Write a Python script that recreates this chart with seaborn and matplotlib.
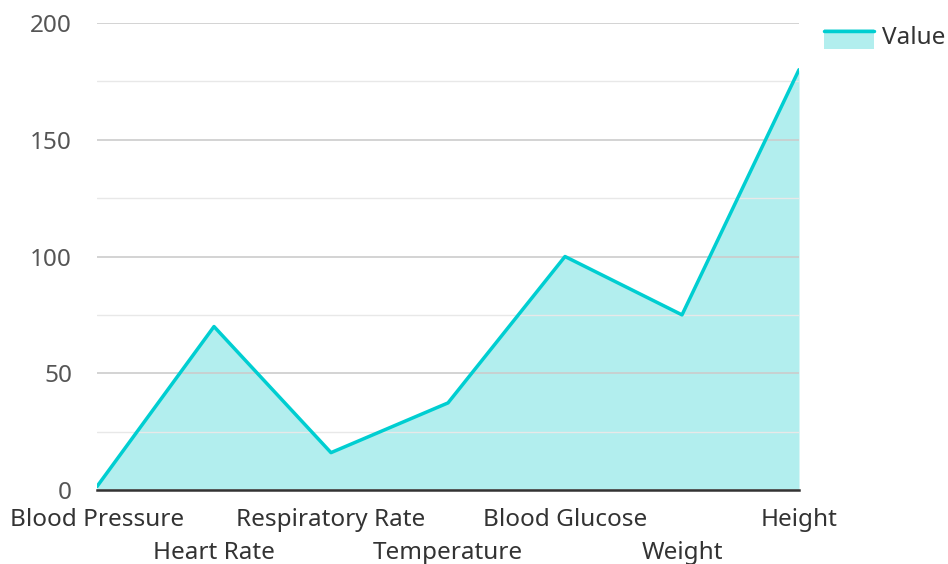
import matplotlib
matplotlib.use("Agg")
import matplotlib.pyplot as plt
import seaborn as sns
import pandas as pd
from matplotlib.patches import Rectangle
from matplotlib.lines import Line2D
from matplotlib.legend_handler import HandlerBase

categories = ["Blood Pressure", "Heart Rate", "Respiratory Rate", "Temperature",
              "Blood Glucose", "Weight", "Height"]
values = [1.5, 70, 16, 37.3, 100, 75, 180]
yticks = [0, 50, 100, 150, 200]
minor_yticks = [25, 75, 125, 175]
series_name = "Value"

sns.set_theme(style="white")
plt.rcParams['font.family'] = ['Noto Sans', 'DejaVu Sans']

LINE = "#00CED1"
FILL = "#B2EEEE"
FS = 17.5

fig = plt.figure(figsize=(9.48, 5.64), dpi=100)
ax = fig.add_axes([97/948, 1-490/564, (799-97)/948, (490-23)/564])

df = pd.DataFrame({"x": range(len(categories)), "y": values})
ax.fill_between(df["x"], 0, df["y"], color=FILL, linewidth=0, zorder=1)
sns.lineplot(data=df, x="x", y="y", ax=ax, color=LINE, linewidth=2.5, zorder=3)

ax.set_xlim(0, len(categories)-1)
ax.set_ylim(0, 200)
ax.set_yticks(yticks)
ax.set_yticks(minor_yticks, minor=True)
ax.set_xticks(range(len(categories)))
ax.set_xticklabels(categories)
ax.set_xlabel("")
ax.set_ylabel("")

for s in ["top", "right", "left"]:
    ax.spines[s].set_visible(False)
ax.spines["bottom"].set_color("#333333")
ax.spines["bottom"].set_linewidth(1.8)
ax.spines["bottom"].set_zorder(4)

ax.set_axisbelow(False)
ax.grid(axis="y", which="major", color="#cccccc", linewidth=1.2)
ax.grid(axis="y", which="minor", color="#e8e8e8", linewidth=1.0)
ax.grid(axis="x", visible=False)

ax.tick_params(axis="y", which="both", length=0, pad=18, labelsize=FS, labelcolor="#555555")
ax.tick_params(axis="x", length=0, labelsize=FS, labelcolor="#333333")
for i, t in enumerate(ax.xaxis.get_major_ticks()):
    t.set_pad(13 if i % 2 == 0 else 37)

class AreaHandler(HandlerBase):
    def create_artists(self, legend, orig_handle, xdescent, ydescent, width, height, fontsize, trans):
        r = Rectangle((-xdescent, -ydescent - 4), width, height + 2, facecolor=FILL, edgecolor="none", transform=trans)
        l = Line2D([-xdescent, -xdescent + width], [-ydescent + height - 3, -ydescent + height - 3],
                   color=LINE, linewidth=2.5, transform=trans)
        return [r, l]

proxy = Rectangle((0, 0), 1, 1)
leg = fig.legend([proxy], [series_name], handler_map={Rectangle: AreaHandler()},
                 loc="upper left", bbox_to_anchor=(814/948, 1-16/564), frameon=False,
                 fontsize=FS, handlelength=2.05, handletextpad=0.35, borderaxespad=0)
for t in leg.get_texts():
    t.set_color("#333333")

fig.savefig("out.png", dpi=100)
